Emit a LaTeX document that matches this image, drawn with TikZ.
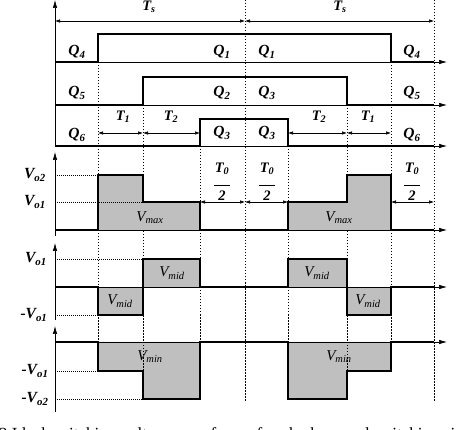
\documentclass[tikz,border=0pt]{standalone}
\usepackage{fontspec}
\setmainfont{Liberation Serif}
\usetikzlibrary{arrows.meta}
\newcommand\lbl[2]{#1\textsubscript{#2}}
\begin{document}
\begin{tikzpicture}[x=1pt,y=-1pt,
  sig/.style={line width=1.5pt,line join=miter},
  wave/.style={line width=2.6pt,line join=miter},
  base/.style={line width=0.7pt,-{Latex[length=8pt,width=4.5pt]}},
  axis/.style={line width=0.7pt,-{Latex[length=8pt,width=4.5pt]}},
  dim/.style={line width=0.6pt,{Latex[length=5pt,width=3.5pt]}-{Latex[length=5pt,width=3.5pt]}},
  vdash/.style={line width=0.4pt,dash pattern=on 1.5pt off 1.5pt},
  guide/.style={line width=0.5pt,dash pattern=on 1pt off 1pt},
  shade/.style={fill=black!25},
  lab/.style={font=\fontsize{15.5}{17}\selectfont\bfseries\itshape,inner sep=0pt},
  slab/.style={font=\fontsize{14.5}{16}\selectfont\bfseries\itshape,inner sep=0pt},
  vin/.style={font=\fontsize{15}{17}\selectfont\itshape,inner sep=0pt}]
\useasboundingbox (0,0) rectangle (474,430);
\clip (0,0) rectangle (474,430);

% ---- dashed verticals
\draw[vdash] (98,62) -- (98,371);
\draw[vdash] (143,105) -- (143,399);
\draw[vdash] (200,146) -- (200,399);
\draw[vdash] (245,0) -- (245,402);
\draw[vdash] (288,146) -- (288,399);
\draw[vdash] (347,105) -- (347,399);
\draw[vdash] (391,62) -- (391,371);
\draw[vdash] (434,0) -- (434,402);

% ---- panel 1: switching signals
\coordinate (ax1b) at (55,146); \coordinate (ax1t) at (55,0);
\draw[axis] (ax1b) -- (ax1t);
\coordinate (ts0) at (55,21); \coordinate (ts1) at (245,21); \coordinate (ts2) at (434,21);
\draw[dim] (ts0) -- (ts1);
\draw[dim] (ts1) -- (ts2);
\node[slab] (tsa) at (149,7) {\lbl{T}{s}};
\node[slab] (tsb) at (340,7) {\lbl{T}{s}};

\coordinate (r1a) at (55,62); \coordinate (r1b) at (447,62);
\draw[base] (r1a) -- (r1b);
\draw[sig] (55,62) -- (98,62) -- (98,34) -- (391,34) -- (391,62) -- (434,62);
\coordinate (r2a) at (55,105); \coordinate (r2b) at (447,105);
\draw[base] (r2a) -- (r2b);
\draw[sig] (55,105) -- (143,105) -- (143,77) -- (347,77) -- (347,105) -- (434,105);
\coordinate (r3a) at (55,146); \coordinate (r3b) at (447,146);
\draw[base] (r3a) -- (r3b);
\draw[sig] (55,146) -- (200,146) -- (200,119) -- (288,119) -- (288,146) -- (434,146);

\node[lab] (q4a) at (77,52) {\lbl{Q}{4}};
\node[lab] (q1a) at (222,52) {\lbl{Q}{1}};
\node[lab] (q1b) at (267,52) {\lbl{Q}{1}};
\node[lab] (q4b) at (412,52) {\lbl{Q}{4}};
\node[lab] (q5a) at (77,93) {\lbl{Q}{5}};
\node[lab] (q2a) at (222,93) {\lbl{Q}{2}};
\node[lab] (q3a) at (267,93) {\lbl{Q}{3}};
\node[lab] (q5b) at (412,93) {\lbl{Q}{5}};
\node[lab] (q6a) at (77,135) {\lbl{Q}{6}};
\node[lab] (q3b) at (222,133) {\lbl{Q}{3}};
\node[lab] (q3c) at (267,133) {\lbl{Q}{3}};
\node[lab] (q6b) at (412,135) {\lbl{Q}{6}};

\coordinate (t0) at (98,133); \coordinate (t1) at (143,133); \coordinate (t2) at (200,133);
\coordinate (t3) at (288,133); \coordinate (t4) at (347,133); \coordinate (t5) at (391,133);
\draw[dim] (t0) -- (t1);
\draw[dim] (t1) -- (t2);
\draw[dim] (t3) -- (t4);
\draw[dim] (t4) -- (t5);
\node[slab] (T1a) at (123,117) {\lbl{T}{1}};
\node[slab] (T2a) at (171,117) {\lbl{T}{2}};
\node[slab] (T2b) at (319,117) {\lbl{T}{2}};
\node[slab] (T1b) at (368,117) {\lbl{T}{1}};

% ---- panel 2: Vmax
\draw[axis] (55,236) -- (55,152);
\fill[shade] (98,230) -- (98,175) -- (143,175) -- (143,202) -- (200,202) -- (200,230) -- cycle;
\fill[shade] (288,230) -- (288,202) -- (347,202) -- (347,175) -- (391,175) -- (391,230) -- cycle;
\draw[guide] (55,175) -- (98,175);
\draw[guide] (55,202) -- (143,202);
\draw[base] (55,230) -- (447,230);
\coordinate (h0) at (200,202); \coordinate (h1) at (245,202); \coordinate (h2) at (288,202);
\coordinate (h3) at (391,202); \coordinate (h4) at (434,202);
\draw[dim] (h0) -- (h1);
\draw[dim] (h1) -- (h2);
\draw[dim] (h3) -- (h4);
\draw[wave] (55,230) -- (98,230) -- (98,175) -- (143,175) -- (143,202) -- (200,202) -- (200,230)
  -- (288,230) -- (288,202) -- (347,202) -- (347,175) -- (391,175) -- (391,230) -- (434,230);
\node[slab,align=center] (fa) at (222,182) {\lbl{T}{0}\\[-3pt]\rule{16pt}{1.2pt}\\[-1pt]2};
\node[slab,align=center] (fb) at (267,182) {\lbl{T}{0}\\[-3pt]\rule{16pt}{1.2pt}\\[-1pt]2};
\node[slab,align=center] (fc) at (412,182) {\lbl{T}{0}\\[-3pt]\rule{16pt}{1.2pt}\\[-1pt]2};
\node[lab] (vo2) at (35,175) {\lbl{V}{o2}};
\node[lab] (vo1) at (35,202) {\lbl{V}{o1}};
\node[vin] (vmax1) at (150,218) {\lbl{V}{max}};
\node[vin] (vmax2) at (339,218) {\lbl{V}{max}};

% ---- panel 3: Vmid
\draw[axis] (55,320) -- (55,243);
\fill[shade] (98,287) -- (98,315) -- (143,315) -- (143,287) -- cycle;
\fill[shade] (143,287) -- (143,259) -- (200,259) -- (200,287) -- cycle;
\fill[shade] (288,287) -- (288,259) -- (347,259) -- (347,287) -- cycle;
\fill[shade] (347,287) -- (347,315) -- (391,315) -- (391,287) -- cycle;
\draw[guide] (55,259) -- (143,259);
\draw[guide] (55,315) -- (98,315);
\draw[base] (55,287) -- (447,287);
\draw[wave] (55,287) -- (98,287) -- (98,315) -- (143,315) -- (143,259) -- (200,259) -- (200,287)
  -- (288,287) -- (288,259) -- (347,259) -- (347,315) -- (391,315) -- (391,287) -- (434,287);
\node[lab] (vo1b) at (36,259) {\lbl{V}{o1}};
\node[lab] (mvo1) at (34,315) {-\lbl{V}{o1}};
\node[vin] (vmid1) at (172,273) {\lbl{V}{mid}};
\node[vin] (vmid2) at (120,301) {\lbl{V}{mid}};
\node[vin] (vmid3) at (317,273) {\lbl{V}{mid}};
\node[vin] (vmid4) at (368,301) {\lbl{V}{mid}};

% ---- panel 4: Vmin
\draw[axis] (55,412) -- (55,326);
\fill[shade] (98,342) -- (98,371) -- (143,371) -- (143,399) -- (200,399) -- (200,342) -- cycle;
\fill[shade] (288,342) -- (288,399) -- (347,399) -- (347,371) -- (391,371) -- (391,342) -- cycle;
\draw[vdash] (143,342) -- (143,371);
\draw[vdash] (347,342) -- (347,371);
\draw[guide] (55,371) -- (98,371);
\draw[guide] (55,399) -- (143,399);
\draw[base] (55,342) -- (447,342);
\draw[wave] (55,342) -- (98,342) -- (98,371) -- (143,371) -- (143,399) -- (200,399) -- (200,342)
  -- (288,342) -- (288,399) -- (347,399) -- (347,371) -- (391,371) -- (391,342) -- (434,342);
\node[lab] (mvo1b) at (35,371) {-\lbl{V}{o1}};
\node[lab] (mvo2) at (35,399) {-\lbl{V}{o2}};
\node[vin] (vmin1) at (150,357) {\lbl{V}{min}};
\node[vin] (vmin2) at (339,357) {\lbl{V}{min}};

% ---- cut-off caption (only its top shows, as in the reference)
\node[anchor=base west,inner sep=0pt,font=\fontsize{17}{19}\selectfont] (cap) at (-1,439)
  {2 Ideal switching voltage waveform of each phase and switching signals of f};
\end{tikzpicture}
\end{document}
